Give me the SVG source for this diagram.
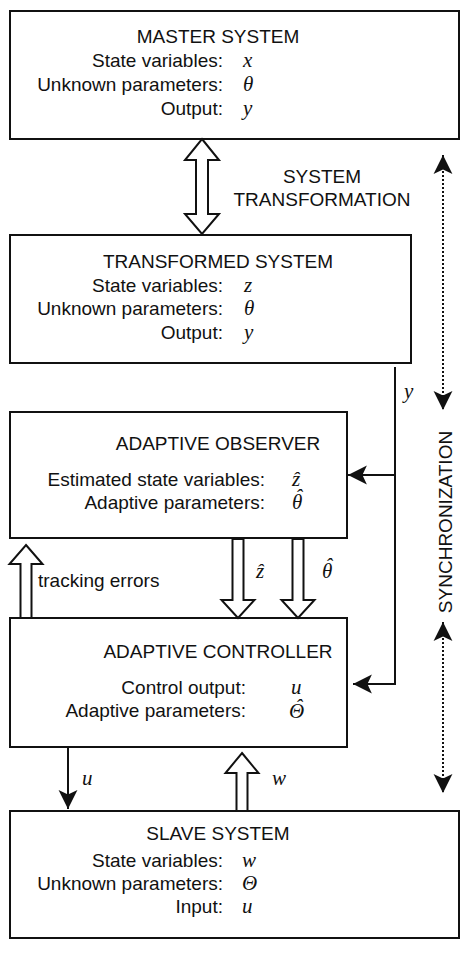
<svg xmlns="http://www.w3.org/2000/svg" width="474" height="953" viewBox="0 0 474 953">
<style>
  .box { fill: #fff; stroke: #111; stroke-width: 2; }
  .t { font-family: "Liberation Sans", Arial, sans-serif; font-size: 19px; fill: #111; }
  .c { text-anchor: middle; }
  .r { text-anchor: end; }
  .m { font-family: "Liberation Serif", "DejaVu Serif", serif; font-style: italic; font-size: 21px; fill: #111; }
  .hol { fill: #fff; stroke: #111; stroke-width: 2; stroke-linejoin: miter; }
  .ln { fill: none; stroke: #111; stroke-width: 2; }
  .dot { fill: none; stroke: #111; stroke-width: 2; stroke-dasharray: 2 2; }
</style>
<defs>
  <marker id="ah" markerUnits="userSpaceOnUse" markerWidth="20" markerHeight="20" viewBox="0 -9 18 18" refX="17" refY="0" orient="auto-start-reverse">
    <path d="M0,-8.5 L17,0 L0,8.5 L4,0 Z" fill="#111"/>
  </marker>
</defs>

<g id="master">
  <rect class="box" x="10" y="11" width="449" height="128"/>
  <text class="t c" x="218" y="43">MASTER SYSTEM</text>
  <text class="t r" x="223" y="67">State variables:</text>
  <text class="t r" x="223" y="91">Unknown parameters:</text>
  <text class="t r" x="223" y="115">Output:</text>
  <text class="m" x="243" y="67">x</text>
  <text class="m" x="243" y="91">θ</text>
  <text class="m" x="243" y="115">y</text>
</g>

<g id="transformed">
  <rect class="box" x="10" y="235" width="401" height="128"/>
  <text class="t c" x="218" y="268">TRANSFORMED SYSTEM</text>
  <text class="t r" x="223" y="292">State variables:</text>
  <text class="t r" x="223" y="315">Unknown parameters:</text>
  <text class="t r" x="223" y="339">Output:</text>
  <text class="m" x="244" y="292">z</text>
  <text class="m" x="244" y="315">θ</text>
  <text class="m" x="244" y="339">y</text>
</g>

<g id="observer">
  <rect class="box" x="10" y="412" width="337" height="126"/>
  <text class="t c" x="218" y="450">ADAPTIVE OBSERVER</text>
  <text class="t r" x="265" y="486">Estimated state variables:</text>
  <text class="t r" x="265" y="509">Adaptive parameters:</text>
  <text class="m" x="292" y="486">z&#770;</text>
  <text class="m" x="292" y="509">θ<tspan dx="-7" dy="-5">ˆ</tspan></text>
</g>

<g id="controller">
  <rect class="box" x="10" y="618" width="337" height="129"/>
  <text class="t c" x="218" y="658">ADAPTIVE CONTROLLER</text>
  <text class="t r" x="246" y="694">Control output:</text>
  <text class="t r" x="246" y="717">Adaptive parameters:</text>
  <text class="m" x="291" y="694">u</text>
  <text class="m" x="289" y="718">Θ<tspan dx="-9" dy="-4">ˆ</tspan></text>
</g>

<g id="slave">
  <rect class="box" x="10" y="811" width="449" height="127"/>
  <text class="t c" x="218" y="840">SLAVE SYSTEM</text>
  <text class="t r" x="223" y="867">State variables:</text>
  <text class="t r" x="223" y="890">Unknown parameters:</text>
  <text class="t r" x="223" y="913">Input:</text>
  <text class="m" x="242" y="867">w</text>
  <text class="m" x="242" y="890">Θ</text>
  <text class="m" x="242" y="913">u</text>
</g>

<g id="connectors">
  <!-- system transformation double arrow -->
  <path class="hol" d="M202,139 L219,160 L208,160 L208,214 L219,214 L202,234 L185,214 L196,214 L196,160 L185,160 Z"/>
  <text class="t c" x="322" y="183">SYSTEM</text>
  <text class="t c" x="322" y="206">TRANSFORMATION</text>

  <!-- y feed -->
  <polyline class="ln" points="395,367 395,684 353,684" marker-end="url(#ah)"/>
  <line class="ln" x1="395" y1="475" x2="348" y2="475" marker-end="url(#ah)"/>
  <text class="m" x="404" y="398">y</text>

  <!-- tracking errors -->
  <path class="hol" d="M26,545 L42.5,564 L31.5,564 L31.5,618 L20.5,618 L20.5,564 L9.5,564 Z"/>
  <text class="t" x="38" y="587">tracking errors</text>

  <!-- z hat and theta hat -->
  <path class="hol" d="M232.5,539 L243.5,539 L243.5,600 L254.5,600 L238,618 L221.5,600 L232.5,600 Z"/>
  <path class="hol" d="M292.5,539 L303.5,539 L303.5,600 L314.5,600 L298,618 L281.5,600 L292.5,600 Z"/>
  <text class="m" x="256" y="578">z&#770;</text>
  <text class="m" x="322" y="578">θ<tspan dx="-7" dy="-5">ˆ</tspan></text>

  <!-- u -->
  <line class="ln" x1="68" y1="748" x2="68" y2="809" marker-end="url(#ah)"/>
  <text class="m" x="82" y="785">u</text>

  <!-- w -->
  <path class="hol" d="M242,753 L258.5,773 L247.5,773 L247.5,811 L236.5,811 L236.5,773 L225.5,773 Z"/>
  <text class="m" x="272" y="785">w</text>

  <!-- synchronization -->
  <line class="dot" x1="443" y1="155" x2="443" y2="410" marker-start="url(#ah)" marker-end="url(#ah)"/>
  <line class="dot" x1="443" y1="622" x2="443" y2="793" marker-start="url(#ah)" marker-end="url(#ah)"/>
  <text class="t c" transform="translate(452,522) rotate(-90)">SYNCHRONIZATION</text>
</g>
</svg>
